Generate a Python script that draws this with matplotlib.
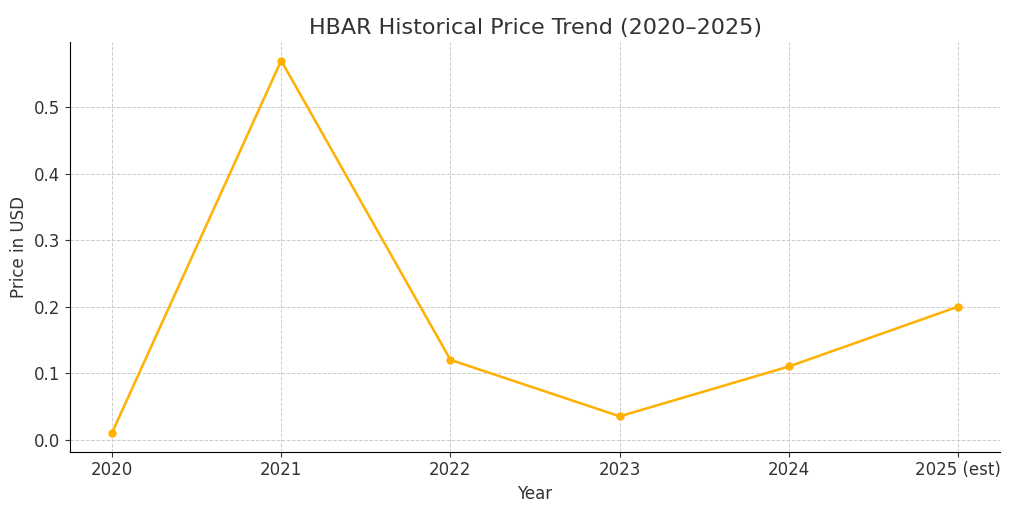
import matplotlib
matplotlib.use("Agg")
import matplotlib.pyplot as plt

years = ["2020", "2021", "2022", "2023", "2024", "2025 (est)"]
prices = [0.01, 0.57, 0.12, 0.035, 0.11, 0.20]

plt.rcParams['font.family'] = ['DejaVu Sans']
fig, ax = plt.subplots(figsize=(10.24, 5.12), dpi=100)
x = range(len(years))
ax.plot(x, prices, color="#FFB000", marker="o", markersize=5, linewidth=1.8)
ax.set_xticks(list(x))
ax.set_xticklabels(years)
ax.set_title("HBAR Historical Price Trend (2020–2025)", fontsize=16, color="#333333")
ax.set_xlabel("Year", fontsize=12, color="#333333")
ax.set_ylabel("Price in USD", fontsize=12, color="#333333")
ax.tick_params(labelsize=12, colors="#333333")
ax.grid(True, linestyle="--", color="#cccccc", linewidth=0.7)
ax.spines["top"].set_visible(False)
ax.spines["right"].set_visible(False)
ax.set_xlim(-0.25, 5.25)
ax.set_ylim(-0.018, 0.598)
fig.subplots_adjust(left=0.068, right=0.977, top=0.918, bottom=0.118)
fig.savefig("out.png")
